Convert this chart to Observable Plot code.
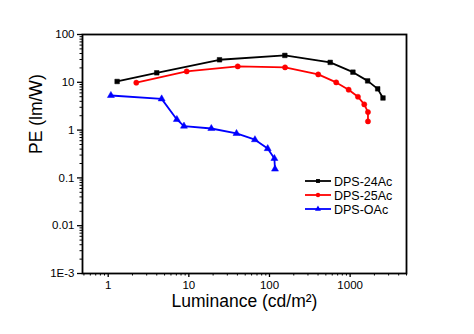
<!DOCTYPE html>
<html><head><meta charset="utf-8">
<script src="https://cdn.jsdelivr.net/npm/d3@7"></script>
<script src="https://cdn.jsdelivr.net/npm/@observablehq/plot@0.6"></script>
<style>
body{margin:0;background:#fff;font-family:"Liberation Sans",Arial,sans-serif}
#c{position:relative;width:474px;height:334px}
#legend{position:absolute;left:0;top:0}
</style></head><body><div id="c"></div>
<script>
const seriesNames = ["DPS-24Ac", "DPS-25Ac", "DPS-OAc"];
const seriesColors = ["#000000", "#ff0000", "#0000ff"];
const seriesSymbols = ["square", "circle", "triangle"];

const lum24 = [1.29, 4.0, 24, 155, 566, 1083, 1649, 2197, 2555];
const pe24  = [10.4, 15.8, 29.6, 36.5, 26.1, 16.3, 10.7, 7.3, 4.7];

const lum25 = [2.23, 9.4, 40.4, 156, 402, 672, 958, 1250, 1497, 1664, 1664];
const pe25  = [9.8, 16.9, 21.5, 20.5, 14.6, 9.95, 7.0, 4.98, 3.45, 2.38, 1.52];

const lumOA = [1.08, 4.6, 7.1, 8.7, 19, 39, 66, 95, 115, 117];
const peOA  = [5.3, 4.5, 1.67, 1.21, 1.08, 0.85, 0.63, 0.41, 0.255, 0.153];

const xTicks = [1, 10, 100, 1000];
const yTicks = [0.001, 0.01, 0.1, 1, 10, 100];
const yTickLabels = ["1E-3", "0.01", "0.1", "1", "10", "100"];
const xLabel = "Luminance (cd/m²)";
const yLabel = "PE (lm/W)";

const lums = [lum24, lum25, lumOA];
const pes = [pe24, pe25, peOA];
const data = [];
seriesNames.forEach((s, i) => lums[i].forEach((l, j) => data.push({series: s, lum: l, pe: pes[i][j]})));

const xMinor = [];
for (let d = 0.1; d <= 1000; d *= 10) for (let k = 2; k <= 9; k++) { const v = +(k * d).toPrecision(3); if (v >= 0.48 && v <= 5000) xMinor.push(v); }
const yMinor = [];
for (let d = 0.001; d <= 10; d *= 10) for (let k = 2; k <= 9; k++) yMinor.push(+(k * d).toPrecision(3));

const W = 474, H = 334;
const chart = Plot.plot({
  width: W, height: H,
  marginLeft: 82, marginRight: 68, marginTop: 34, marginBottom: 61,
  style: {fontFamily: '"Liberation Sans", Arial, sans-serif', fontSize: "11.5px", color: "#000", background: "#fff"},
  x: {type: "log", domain: [0.48, 5000]},
  y: {type: "log", domain: [0.001, 100]},
  color: {domain: seriesNames, range: seriesColors},
  symbol: {domain: seriesNames, range: seriesSymbols},
  marks: [
    Plot.axisX({ticks: xTicks, tickSize: 4, tickPadding: 3, tickFormat: d => String(d), label: null, strokeWidth: 1.3}),
    Plot.axisX({ticks: xMinor, tickSize: 2.5, tickFormat: null, text: null, label: null, strokeWidth: 1}),
    Plot.axisY({ticks: yTicks, tickSize: 5, tickPadding: 3, tickFormat: d => yTickLabels[yTicks.indexOf(d)], label: null, strokeWidth: 1.3}),
    Plot.axisY({ticks: yMinor, tickSize: 2.5, text: null, label: null, strokeWidth: 1}),
    Plot.frame({stroke: "#000", strokeWidth: 1.8}),
    Plot.line(data, {x: "lum", y: "pe", z: "series", stroke: "series", strokeWidth: 1.8}),
    Plot.dot(data, {x: "lum", y: "pe", fill: "series", stroke: "series", symbol: "series", r: 2.6, strokeWidth: 0.5}),
    Plot.text([xLabel], {text: d => d, frameAnchor: "bottom", dy: 33, fontSize: 17.5, lineAnchor: "bottom"}),
    Plot.text([yLabel], {text: d => d, frameAnchor: "left", dx: -46, rotate: -90, fontSize: 17.5})
  ]
});
document.getElementById("c").appendChild(chart);

// legend overlay
const leg = d3.select("#c").append("svg").attr("id", "legend").attr("width", W).attr("height", H);
const rows = [181, 195, 209];
seriesNames.forEach((s, i) => {
  const g = leg.append("g").attr("transform", `translate(0,${rows[i]})`);
  g.append("line").attr("x1", 305).attr("x2", 331).attr("y1", 0).attr("y2", 0).attr("stroke", seriesColors[i]).attr("stroke-width", 1.8);
  const sym = {square: d3.symbolSquare, circle: d3.symbolCircle, triangle: d3.symbolTriangle}[seriesSymbols[i]];
  g.append("path").attr("d", d3.symbol(sym, Math.PI * 2.2 * 2.2)()).attr("transform", "translate(318,0)").attr("fill", seriesColors[i]);
  g.append("text").attr("x", 334).attr("y", 0).attr("dy", "0.36em").attr("font-size", 12.5).attr("fill", "#000")
    .style("font-family", '"Liberation Sans", Arial, sans-serif').text(s);
});
</script></body></html>
